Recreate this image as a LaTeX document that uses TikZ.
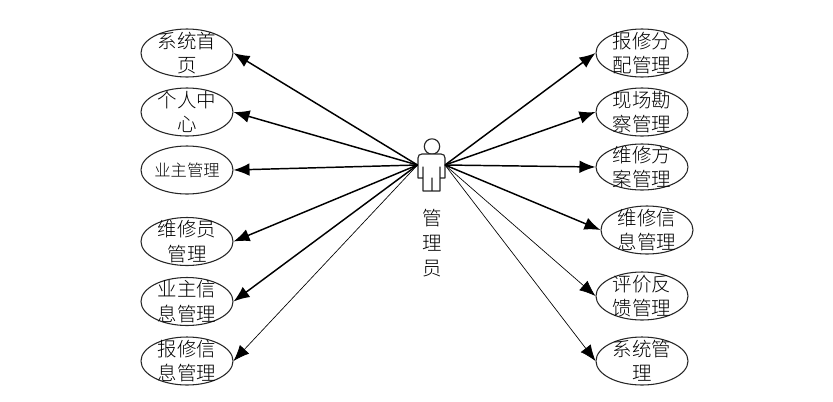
\documentclass[tikz,border=0pt]{standalone}
\usepackage{fontspec}
\setmainfont{Noto Sans CJK SC Light}
\usetikzlibrary{arrows.meta,shapes.geometric}
\tikzset{
  uc/.style={draw=black!85,ellipse,line width=0.8pt,inner sep=0pt,minimum width=69pt,minimum height=36pt},
  uctext/.style={align=center,inner sep=0pt,font=\fontsize{14.6pt}{18.2pt}\selectfont,text=black},
  ucsmalltext/.style={uctext,font=\fontsize{12.2pt}{14pt}\selectfont},
  heavy/.style={-{Latex[length=12pt,width=9.5pt]},line width=1.1pt,black},
  light/.style={-{Latex[length=12pt,width=9.5pt]},line width=0.5pt,black},
  actor/.style={draw=black!85,line width=0.85pt,fill=white,line join=round}
}
\begin{document}
\begin{tikzpicture}[x=0.75pt,y=-0.75pt]
\useasboundingbox (0,0) rectangle (833,401);
% actor
\draw[actor] (432,146.5) circle (7.7);
\draw[actor] (423,191) -- (423,167) -- (423,178) -- (418,178) -- (418,158) .. controls (418,155.5) and (419.5,154) .. (422,154)
  -- (441,154) .. controls (443.5,154) and (445,155.5) .. (445,158) -- (445,178) -- (440,178) -- (440,167) -- (440,191) -- (432,191) -- (432,178) -- (432,191) -- cycle;
\coordinate (hl) at (417.5,165);
\coordinate (hr) at (445,165);
\node[uctext,font=\fontsize{14.6pt}{18.8pt}\selectfont] (lab) at (432,243) {管\\理\\员};
% left
\node[uc,label={[uctext]center:{系统首\\页}}] (l1) at (187,53) {};
\node[uc,label={[uctext]center:{个人中\\心}}] (l2) at (187,112) {};
\node[uc,label={[ucsmalltext]center:{业主管理}}] (l3) at (187,170) {};
\node[uc,label={[uctext]center:{维修员\\管理}}] (l4) at (187,241.5) {};
\node[uc,label={[uctext]center:{业主信\\息管理}}] (l5) at (187,301.5) {};
\node[uc,label={[uctext]center:{报修信\\息管理}}] (l6) at (187,361) {};
% right
\node[uc,label={[uctext]center:{报修分\\配管理}}] (r1) at (642,53) {};
\node[uc,label={[uctext]center:{现场勘\\察管理}}] (r2) at (642,112) {};
\node[uc,minimum height=34.5pt,label={[uctext]center:{维修方\\案管理}}] (r3) at (642,167) {};
\node[uc,label={[uctext]center:{维修信\\息管理}}] (r4) at (647,230) {};
\node[uc,label={[uctext]center:{评价反\\馈管理}}] (r5) at (642,296) {};
\node[uc,label={[uctext]center:{系统管\\理}}] (r6) at (642,361) {};
% connectors
\draw[heavy] (hl) -- (l1.east);
\draw[heavy] (hl) -- (l2.east);
\draw[heavy] (hl) -- (l3.east);
\draw[heavy] (hl) -- (l4.east);
\draw[heavy] (hl) -- (l5.east);
\draw[light] (hl) -- (l6.east);
\draw[heavy] (hr) -- (r1.west);
\draw[heavy] (hr) -- (r2.west);
\draw[heavy] (hr) -- (r3.west);
\draw[heavy] (hr) -- (r4.west);
\draw[light] (hr) -- (r5.west);
\draw[light] (hr) -- (r6.west);
\end{tikzpicture}
\end{document}
